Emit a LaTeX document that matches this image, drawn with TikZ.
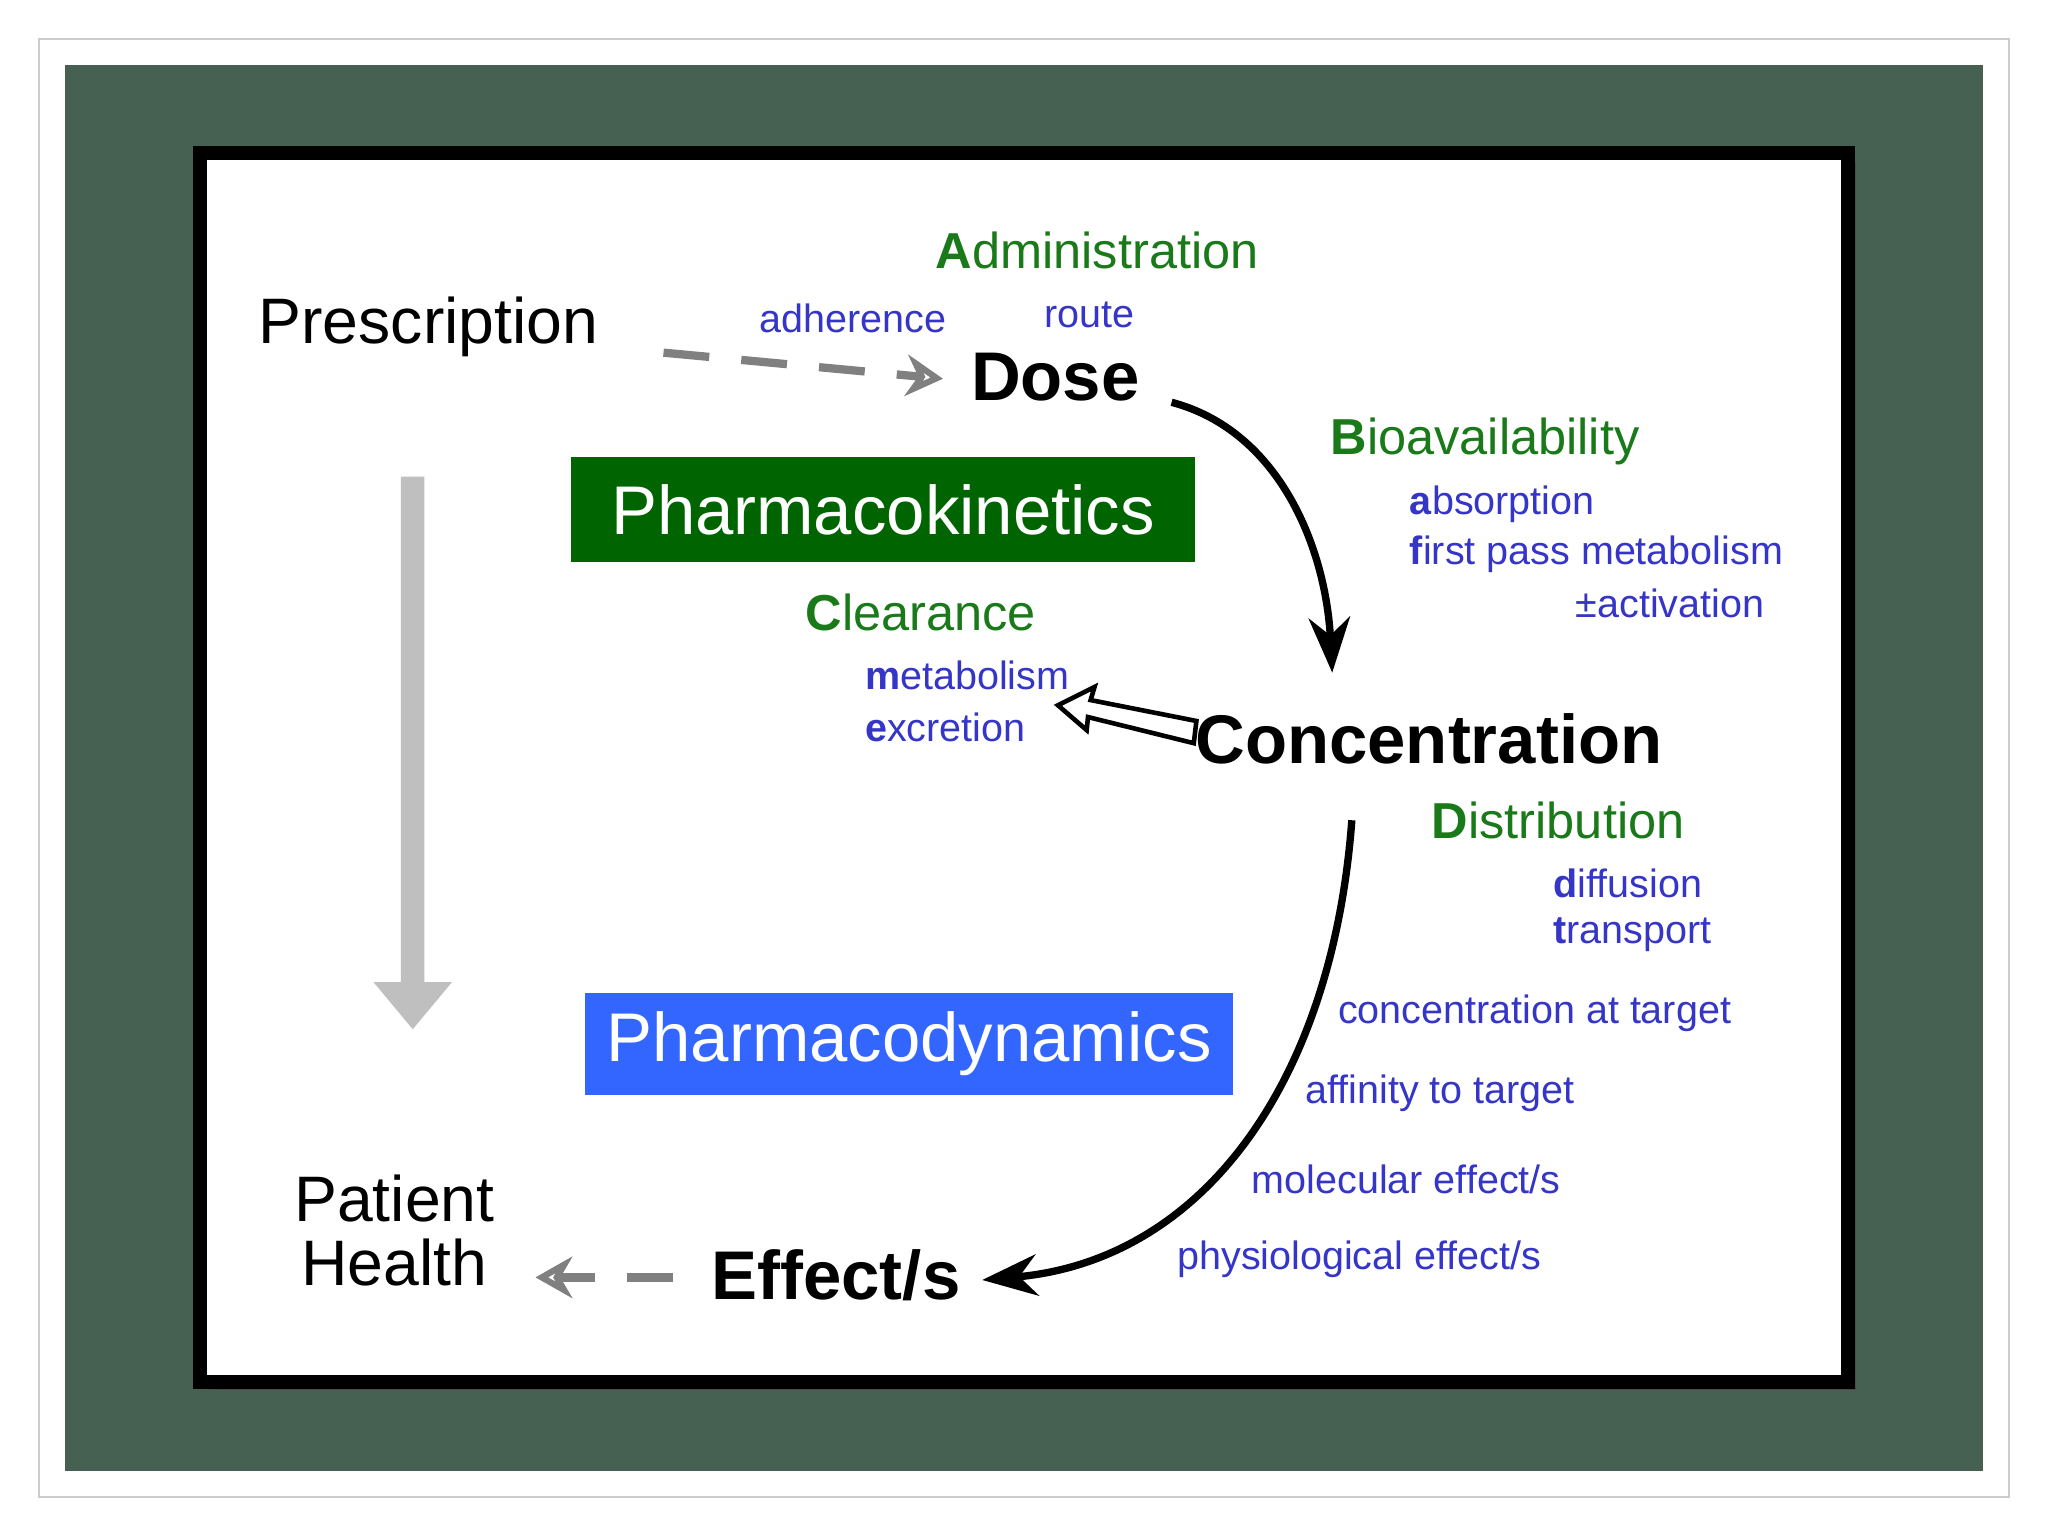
\documentclass[tikz,border=0pt]{standalone}
\usepackage{fontspec}
\setmainfont{Liberation Sans}
\usetikzlibrary{arrows.meta,shapes.arrows}
\definecolor{bgg}{HTML}{466152}
\definecolor{grn}{HTML}{1A7A1A}
\definecolor{blu}{HTML}{3535C8}
\definecolor{pkg}{HTML}{006400}
\definecolor{pdb}{HTML}{3366FF}
\tikzset{
 main/.style={font=\fontsize{14pt}{16pt}\selectfont},
 big/.style={font=\fontsize{15pt}{17pt}\selectfont\bfseries},
 hd/.style={text=grn,font=\fontsize{11pt}{13pt}\selectfont},
 sub/.style={text=blu,font=\fontsize{8.6pt}{10pt}\selectfont},
 box/.style={text=white,font=\fontsize{15pt}{17pt}\selectfont,inner sep=0pt},
 gd/.style={gray,dashed,line width=1.8pt,dash pattern=on 10pt off 7pt,-{Stealth[open,length=8pt,width=9pt]}},
 cv/.style={line width=1.6pt,-{Stealth[length=12pt,width=9pt]}}
}
\begin{document}
\begin{tikzpicture}[x=0.01cm,y=-0.01cm]
\useasboundingbox (0,0) rectangle (1568,1176);
\fill[white] (0,0) rectangle (1568,1176);
\draw[gray!40] (30,30) rectangle (1538,1146);
\fill[bgg] (50,50) rectangle (1518,1126);
\fill[black!70] (160,124) rectangle (1421,1064);
\draw[fill=white,line width=3pt] (153,117) rectangle (1415,1058);
% gray down arrow
\fill[gray!50] (307,365) -- (325,365) -- (325,752) -- (346,752) -- (316,788) -- (286,752) -- (307,752) -- cycle;
\node[main] (presc) at (328,250) {Prescription};
\node[big] (dose) at (808,289) {Dose};
\node[hd] (adm) at (840,192) {\textbf{A}dministration};
\node[sub] (adh) at (653,244) {adherence};
\node[sub] (route) at (834,241) {route};
\node[fill=pkg,minimum width=478\pgflinewidth,box,minimum width=4.78cm,minimum height=0.8cm] (pk) at (676,390) {Pharmacokinetics};
\node[hd] (bio) at (1137,338) {\textbf{B}ioavailability};
\node[sub,anchor=west] (abs) at (1067,386) {\textbf{a}bsorption};
\node[sub,anchor=west] (fpm) at (1067,424) {\textbf{f}irst pass metabolism};
\node[sub,anchor=west] (act) at (1194,462) {±activation};
\node[hd] (clr) at (705,469) {\textbf{C}learance};
\node[sub,anchor=west] (met) at (650,517) {\textbf{m}etabolism};
\node[sub,anchor=west] (exc) at (650,557) {\textbf{e}xcretion};
\node[big] (conc) at (1094,566) {Concentration};
\node[hd] (dist) at (1193,628) {\textbf{D}istribution};
\node[sub,anchor=west] (dif) at (1177,676) {\textbf{d}iffusion};
\node[sub,anchor=west] (tra) at (1177,716) {\textbf{t}ransport};
\node[sub,anchor=west] (cat) at (1012,776) {concentration at target};
\node[sub,anchor=west] (aff) at (987,837) {affinity to target};
\node[sub,anchor=west] (mol) at (946,903) {molecular effect/s};
\node[sub,anchor=west] (phy) at (889,964) {physiological effect/s};
\node[fill=pdb,box,minimum width=4.96cm,minimum height=0.78cm] (pd) at (696,799) {Pharmacodynamics};
\node[main,align=center] (pat) at (302,942) {Patient\\[-2pt]Health};
\node[big] (eff) at (640,976) {Effect/s};
% hollow arrow
\coordinate (ha1) at (916,560);
\coordinate (ha2) at (810,541);
\draw[line width=1pt,fill=white] (916,552) -- (835,536) -- (838,526) -- (810,540) -- (832,559) -- (833,549) -- (914,569) -- cycle;
% connectors
\draw[gd] (508,270) -- (722,290);
\draw[gd] (515,978) -- (410,978);
\draw[cv] (897,308) .. controls (980,330) and (1015,420) .. (1020,515);
\draw[cv] (1035,628) .. controls (1020,830) and (920,965) .. (752,980);
\end{tikzpicture}
\end{document}
